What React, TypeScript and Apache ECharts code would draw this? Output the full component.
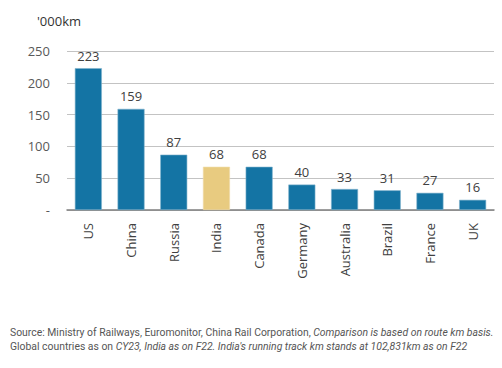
import React, { useEffect, useRef } from "react";
import * as echarts from "echarts";

const categories = ["US", "China", "Russia", "India", "Canada", "Germany", "Australia", "Brazil", "France", "UK"];
const values = [223, 159, 87, 68, 68, 40, 33, 31, 27, 16];
const highlight = "India";
const yTicks = [0, 50, 100, 150, 200, 250];

export default function App() {
  const ref = useRef<HTMLDivElement>(null);
  useEffect(() => {
    const chart = echarts.init(ref.current!, null, { renderer: "svg" });
    const font = "'Open Sans', sans-serif";
    chart.setOption({
      animation: false,
      grid: { left: 67, right: 8, top: 51, bottom: 158 },
      title: {
        text: "'000km",
        left: 32,
        top: 9,
        textStyle: { fontFamily: font, fontSize: 13, fontWeight: "normal", color: "#333" },
      },
      xAxis: {
        type: "category",
        data: categories,
        axisTick: { show: false },
        axisLine: { lineStyle: { color: "#7f7f7f", width: 1.5 } },
        axisLabel: {
          rotate: 90,
          margin: 13,
          interval: 0,
          fontFamily: font,
          fontSize: 13,
          color: "#404040",
        },
      },
      yAxis: {
        type: "value",
        min: yTicks[0],
        max: yTicks[yTicks.length - 1],
        interval: yTicks[1] - yTicks[0],
        axisLine: { show: false },
        axisTick: { show: false },
        splitLine: { lineStyle: { color: "#c3c3c3", width: 1 } },
        axisLabel: {
          margin: 17,
          fontFamily: font,
          fontSize: 13,
          color: "#595959",
          formatter: (v: number) => (v === 0 ? "-" : String(v)),
        },
      },
      series: [
        {
          type: "bar",
          barWidth: 27,
          data: values.map((v, i) => ({
            value: v,
            itemStyle: {
              color: categories[i] === highlight ? "#e8cb80" : "#1474a4",
              borderColor: categories[i] === highlight ? "#f0dca8" : "#7fb2cc",
              borderWidth: 0.6,
            },
          })),
          label: {
            show: true,
            position: "top",
            distance: 6,
            fontFamily: font,
            fontSize: 13,
            color: "#404040",
          },
        },
      ],
      graphic: [
        {
          type: "text",
          left: 10,
          top: 326,
          style: {
            text:
              "Source: Ministry of Railways, Euromonitor, China Rail Corporation, {i|Comparison is based on route km basis.}\nGlobal countries as on {i|CY23, India as on F22. India's running track km stands at 102,831km as on F22}",
            fontFamily: "Roboto, sans-serif",
            fontSize: 10.4,
            lineHeight: 13.5,
            fill: "#555",
            rich: {
              i: { fontStyle: "italic", fontFamily: "Roboto, sans-serif", fontSize: 10.4, fill: "#555" },
            },
          },
        },
      ],
    });
    return () => chart.dispose();
  }, []);
  return <div ref={ref} style={{ width: 502, height: 368, position: "absolute", left: 0, top: 0 }} />;
}
